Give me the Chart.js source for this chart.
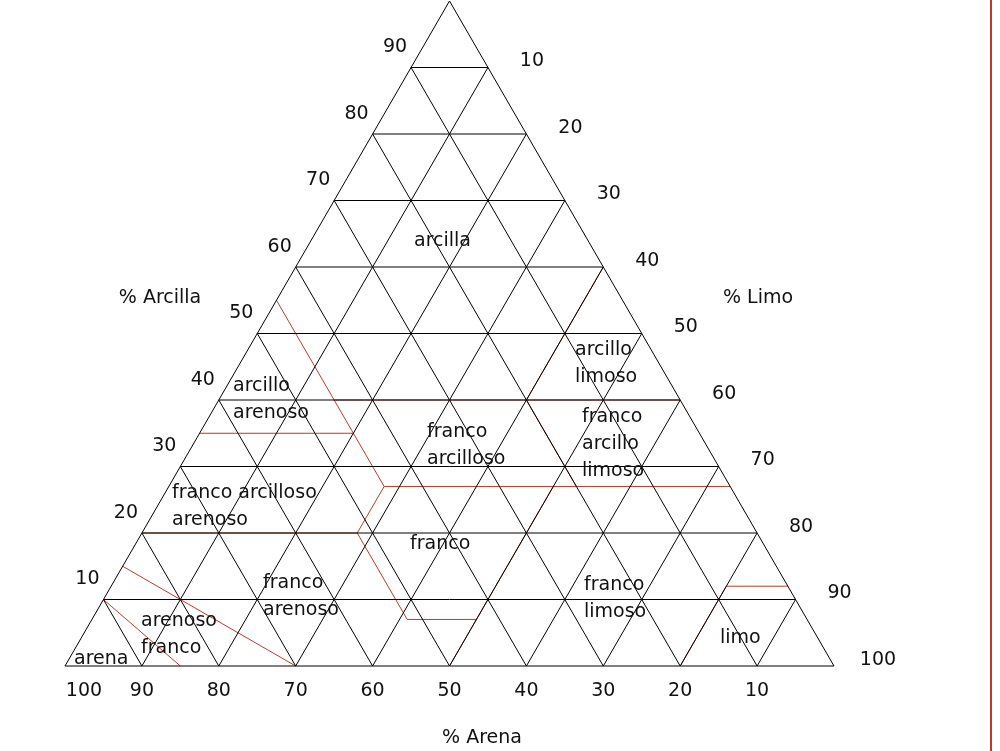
<!DOCTYPE html>
<html>
<head>
<meta charset="utf-8">
<script src="https://cdn.jsdelivr.net/npm/chart.js@4"></script>
<style>
  body { margin: 0; background: #fff; }
  canvas { display: block; }
</style>
</head>
<body>
<canvas id="chart-soil" width="1000" height="751"></canvas>
<script>
// grid steps (percent)
const gridSteps = [10, 20, 30, 40, 50, 60, 70, 80, 90];
const clayTicks = ['90', '80', '70', '60', '50', '40', '30', '20', '10'];
const siltTicks = ['10', '20', '30', '40', '50', '60', '70', '80', '90', '100'];
const sandTicks = ['100', '90', '80', '70', '60', '50', '40', '30', '20', '10'];

// texture class boundaries, [sand, clay] pairs
const boundaries = [
    [[45, 55], [45, 27]],
    [[65, 35], [45, 35]],
    [[45, 40], [0, 40]],
    [[20, 40], [0, 60]],
    [[20, 40], [20, 27]],
    [[45, 27], [0, 27]],
    [[80, 20], [52, 20]],
    [[52, 20], [45, 27]],
    [[52, 20], [52, 7]],
    [[52, 7], [43, 7]],
    [[43, 7], [50, 0]],
    [[43, 7], [23, 27]],
    [[8, 12], [20, 0]],
    [[8, 12], [0, 12]],
    [[85, 15], [70, 0]],
    [[90, 10], [85, 0]],
];

const H = Math.sqrt(3) / 2;
// sand/clay -> chart x/y
function pt(sand, clay) {
    let silt = 100 - sand - clay;
    return { x: silt + clay / 2, y: clay * H };
}

let datasets = [];
let line = (a, b, color) => datasets.push({
    data: [a, b], showLine: true, borderColor: color, borderWidth: 1,
    pointRadius: 0, clip: false,
});

line(pt(100, 0), pt(0, 0), '#000');
line(pt(100, 0), pt(0, 100), '#000');
line(pt(0, 0), pt(0, 100), '#000');
gridSteps.forEach((k) => {
    line(pt(100 - k, k), pt(0, k), '#000');      // clay
    line(pt(k, 0), pt(k, 100 - k), '#000');      // sand
    line(pt(0, 100 - k), pt(100 - k, 0), '#000'); // silt
});
boundaries.forEach((b) => line(pt(b[0][0], b[0][1]), pt(b[1][0], b[1][1]), '#c0392b'));

const regionLabels = [
    [['arcilla'], 414, 241],
    [['arcillo', 'limoso'], 575, 350],
    [['arcillo', 'arenoso'], 233, 386],
    [['franco', 'arcilloso'], 427, 432],
    [['franco', 'arcillo', 'limoso'], 582, 417],
    [['franco arcilloso', 'arenoso'], 172, 493],
    [['franco'], 410, 544],
    [['franco', 'arenoso'], 263, 583],
    [['franco', 'limoso'], 584, 585],
    [['arenoso', 'franco'], 141, 621],
    [['arena'], 74, 659],
    [['limo'], 720, 638],
];

const labelsPlugin = {
    id: 'labels',
    afterDraw(chart) {
        let ctx = chart.ctx;
        let sx = chart.scales.x, sy = chart.scales.y;
        let px = (p) => [sx.getPixelForValue(p.x), sy.getPixelForValue(p.y)];
        ctx.save();
        ctx.fillStyle = '#111';
        ctx.font = '19px "DejaVu Sans"';
        ctx.textBaseline = 'middle';
        ctx.textAlign = 'center';
        gridSteps.slice().reverse().forEach((k, i) => {
            let [x, y] = px(pt(100 - k, k));
            ctx.fillText(clayTicks[i], x - 16, y - 20);
        });
        siltTicks.forEach((t, i) => {
            let k = 90 - i * 10;
            let [x, y] = px(pt(0, k));
            ctx.fillText(t, x + 44, y - 6);
        });
        sandTicks.forEach((t, i) => {
            let [x, y] = px(pt(100 - i * 10, 0));
            ctx.fillText(t, i === 0 ? x + 19 : x, y + 25);
        });
        ctx.fillText('% Arcilla', 160, 298);
        ctx.fillText('% Limo', 758, 298);
        ctx.fillText('% Arena', 482, 738);
        ctx.textAlign = 'left';
        regionLabels.forEach(([lines, x, y]) => {
            lines.forEach((l, j) => ctx.fillText(l, x, y + j * 27));
        });
        ctx.strokeStyle = '#c0392b';
        ctx.lineWidth = 2;
        ctx.beginPath();
        ctx.moveTo(991, 0);
        ctx.lineTo(991, 751);
        ctx.stroke();
        ctx.restore();
    },
};

new Chart(document.getElementById('chart-soil'), {
    type: 'scatter',
    data: { datasets: datasets },
    options: {
        responsive: false,
        animation: false,
        layout: { padding: { left: 65, right: 166, top: 1, bottom: 85 } },
        scales: {
            x: { type: 'linear', min: 0, max: 100, display: false },
            y: { type: 'linear', min: 0, max: 100 * H, display: false },
        },
        plugins: { legend: { display: false }, tooltip: { enabled: false } },
    },
    plugins: [labelsPlugin],
});
</script>
</body>
</html>
